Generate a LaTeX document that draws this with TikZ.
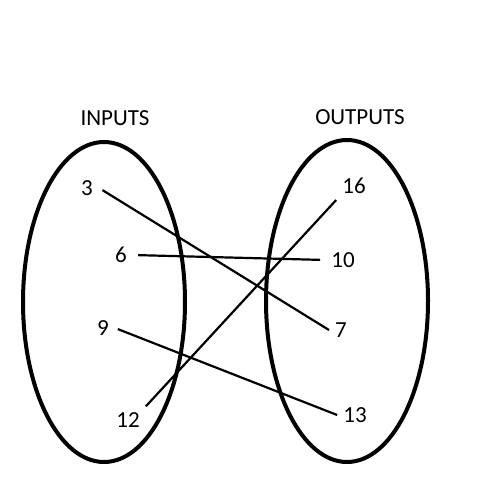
\documentclass[tikz,border=0pt]{standalone}
\usepackage{fontspec}
\setmainfont{Carlito}
\usepackage{tikz}
\usetikzlibrary{positioning}

\begin{document}
\begin{tikzpicture}[
    x=1pt, y=-1pt,
    setring/.style={line width=4pt, black},
    setlabel/.style={font=\fontsize{23}{25}\selectfont, inner sep=0pt},
    numlabel/.style={font=\fontsize{23}{25}\selectfont, inner sep=6pt},
    mapline/.style={line width=2.2pt, black}
]
\useasboundingbox (0,0) rectangle (499,500);

% the two sets
\draw[setring] (104,302) ellipse (81pt and 160pt);
\draw[setring] (347,301) ellipse (81pt and 161pt);

\node[setlabel] (inputs) at (115,118) {INPUTS};
\node[setlabel] (outputs) at (360,117) {OUTPUTS};

% inputs
\node[numlabel] (in3) at (87,188) {3};
\node[numlabel] (in6) at (121,255) {6};
\node[numlabel] (in9) at (103,328) {9};
\node[numlabel] (in12) at (128,420) {12};

% outputs
\node[numlabel] (out16) at (354,186) {16};
\node[numlabel] (out10) at (343,260) {10};
\node[numlabel] (out7) at (341,330) {7};
\node[numlabel] (out13) at (355,415) {13};

\draw[mapline, shorten <=4pt] (in3.east) -- (out7.west);
\draw[mapline, shorten <=5pt, shorten >=5pt] (in6.east) -- (out10.west);
\draw[mapline, shorten <=3pt] (in9.east) -- (out13.west);
\draw[mapline] (in12.north east) -- (out16.south west);

\end{tikzpicture}
\end{document}
